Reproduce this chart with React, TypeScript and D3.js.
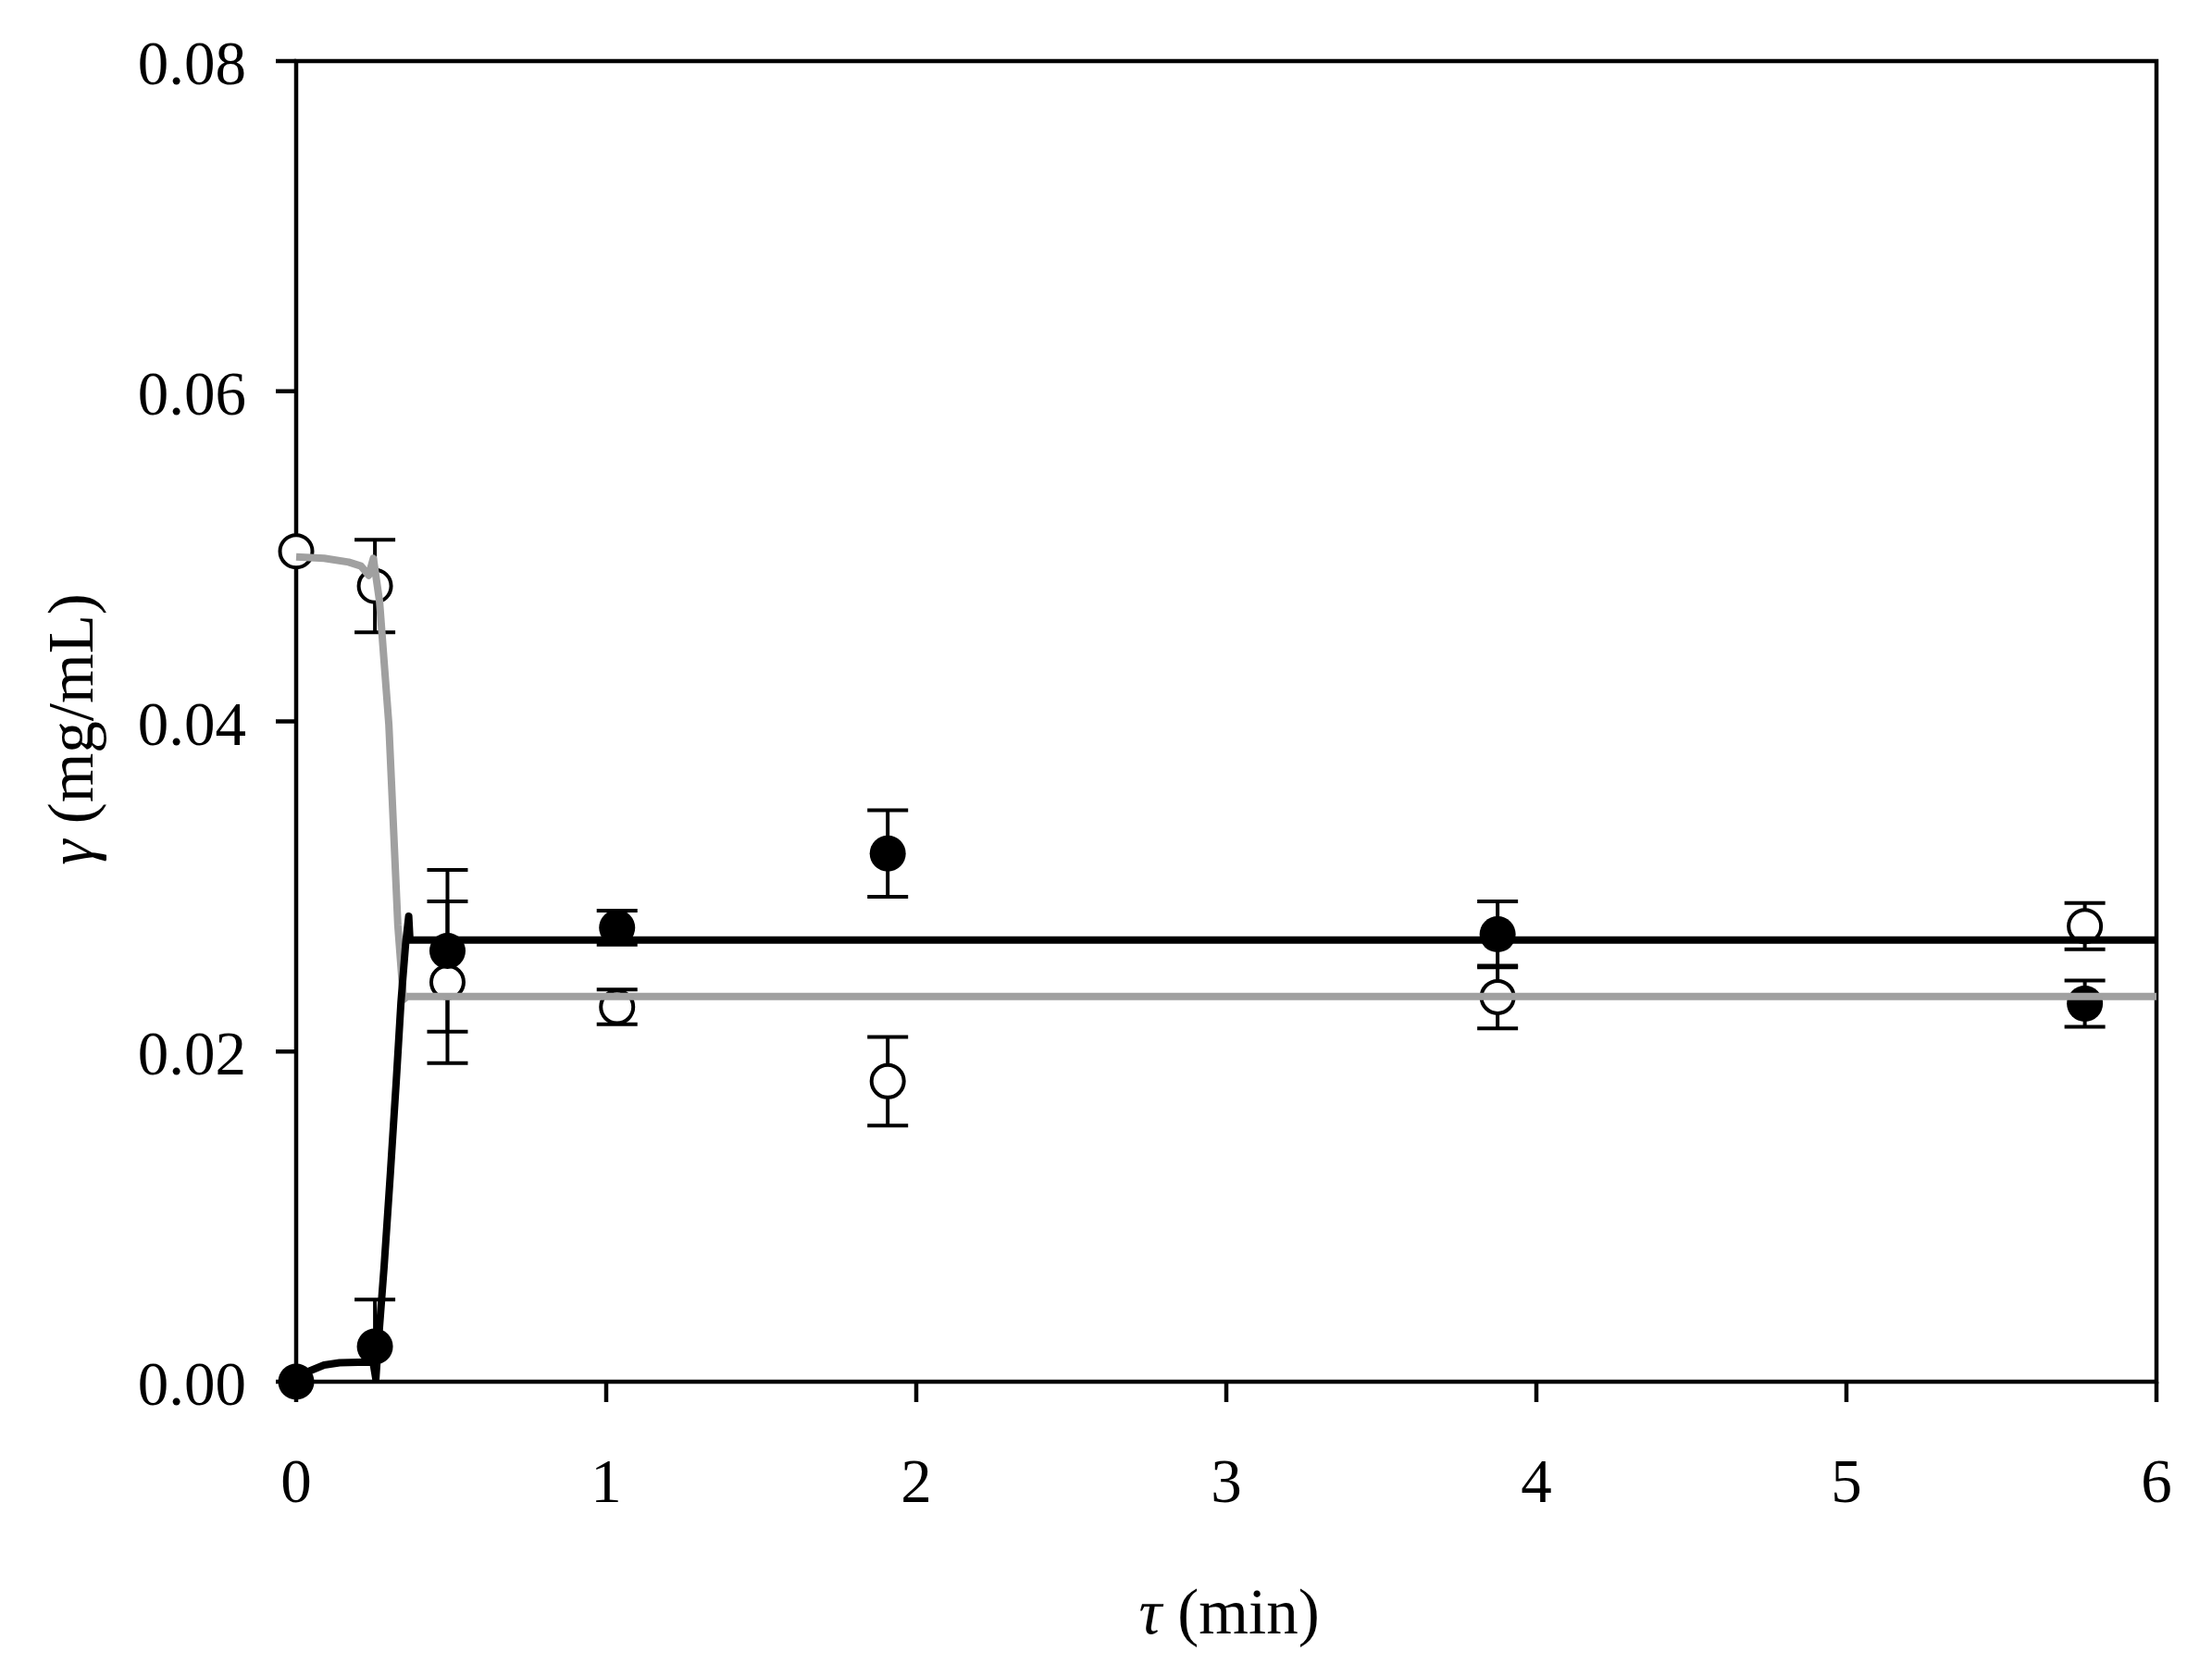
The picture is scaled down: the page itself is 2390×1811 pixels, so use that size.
import React from "react";
import * as d3 from "d3";

// ---- data ----
const timeFilled = [0, 0.254, 0.488, 1.035, 1.908, 3.875, 5.769];
const valueFilled = [0, 0.00213, 0.0261, 0.0275, 0.032, 0.0271, 0.0229];
const errorFilled = [0, 0.00284, 0.0049, 0.00103, 0.00262, 0.002, 0.0014];

const timeOpen = [0, 0.254, 0.488, 1.035, 1.908, 3.875, 5.769];
const valueOpen = [0.0503, 0.0482, 0.0242, 0.0227, 0.0182, 0.0233, 0.0276];
const errorOpen = [0, 0.0028, 0.0049, 0.00105, 0.00268, 0.0019, 0.0014];

const fitFilledT = [0, 0.039, 0.09, 0.14, 0.23, 0.248, 0.257, 0.263, 0.269, 0.284, 0.304, 0.323, 0.338, 0.353, 0.363, 0.367, 6];
const fitFilledV = [0, 0.00062, 0.00101, 0.00115, 0.00119, 0.00118, 0.00017, 0.00185, 0.00336, 0.00706, 0.01267, 0.01828, 0.02299, 0.02652, 0.0282, 0.02676, 0.02676];

const fitOpenT = [0, 0.09, 0.169, 0.209, 0.234, 0.249, 0.269, 0.284, 0.299, 0.308, 0.328, 0.346, 0.358, 6];
const fitOpenV = [0.04997, 0.04988, 0.04965, 0.04941, 0.04885, 0.04988, 0.04726, 0.04352, 0.03979, 0.03605, 0.02764, 0.02315, 0.02334, 0.02334];

const xTicks = [0, 1, 2, 3, 4, 5, 6];
const yTicks = [0, 0.02, 0.04, 0.06, 0.08];

const W = 2390;
const H = 1811;
const L = 320, R = 2330, T = 66, B = 1493;
const FONT = "'Liberation Serif', 'Times New Roman', serif";

export default function App() {
  const x = d3.scaleLinear().domain([0, 6]).range([L, R]);
  const y = d3.scaleLinear().domain([0, 0.08]).range([B, T]);
  const line = d3
    .line<[number, number]>()
    .x((d) => x(d[0]))
    .y((d) => y(d[1]))
    .curve(d3.curveLinear);

  const filledFit = fitFilledT.map((t, i) => [t, fitFilledV[i]] as [number, number]);
  const openFit = fitOpenT.map((t, i) => [t, fitOpenV[i]] as [number, number]);

  const capHalf = 22;
  const clampY = (v: number) => Math.min(B, Math.max(T, y(v)));

  const errorBars = (ts: number[], vs: number[], es: number[], key: string) =>
    ts.map((t, i) => {
      if (!es[i]) return null;
      const cx = x(t);
      const top = y(vs[i] + es[i]);
      const bot = y(vs[i] - es[i]);
      return (
        <g key={key + i} stroke="#000" strokeWidth={4}>
          <line x1={cx} x2={cx} y1={clampY(vs[i] + es[i])} y2={clampY(vs[i] - es[i])} />
          {top >= T && <line x1={cx - capHalf} x2={cx + capHalf} y1={top} y2={top} />}
          {bot <= B && <line x1={cx - capHalf} x2={cx + capHalf} y1={bot} y2={bot} />}
        </g>
      );
    });

  return (
    <svg
      width={W}
      height={H}
      viewBox={`0 0 ${W} ${H}`}
      style={{ position: "absolute", left: 0, top: 0, background: "#fff" }}
    >
      <rect x={0} y={0} width={W} height={H} fill="#fff" />
      {/* frame */}
      <rect x={L} y={T} width={R - L} height={B - T} fill="none" stroke="#000" strokeWidth={4.5} />
      {/* y ticks */}
      {yTicks.map((v) => (
        <g key={"yt" + v}>
          <line x1={L - 22} x2={L} y1={y(v)} y2={y(v)} stroke="#000" strokeWidth={4.5} />
          <text x={266} y={y(v) + 25} textAnchor="end" fontFamily={FONT} fontSize={67} fill="#000">
            {d3.format(".2f")(v)}
          </text>
        </g>
      ))}
      {/* x ticks */}
      {xTicks.map((t) => (
        <g key={"xt" + t}>
          <line x1={x(t)} x2={x(t)} y1={B} y2={B + 22} stroke="#000" strokeWidth={4.5} />
          <text x={x(t)} y={1623} textAnchor="middle" fontFamily={FONT} fontSize={67} fill="#000">
            {t}
          </text>
        </g>
      ))}
      {/* axis titles */}
      <text x={1328} y={1765} textAnchor="middle" fontFamily={FONT} fontSize={69} fill="#000">
        <tspan fontStyle="italic">τ</tspan>
        <tspan> (min)</tspan>
      </text>
      <text
        transform={`translate(100, 788) rotate(-90)`}
        textAnchor="middle"
        fontFamily={FONT}
        fontSize={69}
        fill="#000"
      >
        <tspan fontStyle="italic">γ</tspan>
        <tspan> (mg/mL)</tspan>
      </text>

      {/* error bars */}
      {errorBars(timeFilled, valueFilled, errorFilled, "ef")}
      {errorBars(timeOpen, valueOpen, errorOpen, "eo")}

      {/* markers */}
      {timeOpen.map((t, i) => (
        <circle
          key={"mo" + i}
          cx={x(t)}
          cy={y(valueOpen[i])}
          r={17.5}
          fill="#fff"
          stroke="#000"
          strokeWidth={4}
        />
      ))}
      {timeFilled.map((t, i) => (
        <circle key={"mf" + i} cx={x(t)} cy={y(valueFilled[i])} r={19.5} fill="#000" />
      ))}

      {/* fitted curves */}
      <path d={line(openFit) || ""} fill="none" stroke="#a0a0a0" strokeWidth={8} strokeLinejoin="round" />
      <path d={line(filledFit) || ""} fill="none" stroke="#000" strokeWidth={8} strokeLinejoin="round" />
    </svg>
  );
}
